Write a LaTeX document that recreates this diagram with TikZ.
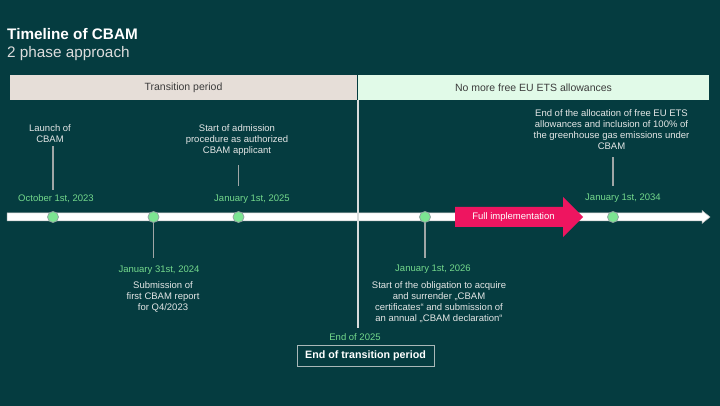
\documentclass[tikz,border=0pt]{standalone}
\usepackage{fontspec}
\setmainfont{Liberation Sans}
\definecolor{bg}{HTML}{053C40}
\definecolor{beige}{HTML}{E6DED8}
\definecolor{mint}{HTML}{E1FAE8}
\definecolor{bandtext}{HTML}{3C3C3C}
\definecolor{dategreen}{HTML}{74D98C}
\definecolor{dotgreen}{HTML}{7CE592}
\definecolor{dotedge}{HTML}{8FA3A0}
\definecolor{bodytext}{HTML}{E4E6E6}
\definecolor{connline}{HTML}{A0A6A6}
\definecolor{hotpink}{HTML}{EE1560}
\definecolor{divider}{HTML}{D8DCDC}
\definecolor{boxedge}{HTML}{A9B8B8}
\definecolor{subtext}{HTML}{DCDCDC}
\definecolor{baredge}{HTML}{B8BCBC}
\begin{document}
\begin{tikzpicture}[x=1pt,y=-1pt,
  bodytxt/.style={font=\fontsize{9.5}{11}\selectfont, text=bodytext, align=center, inner sep=0pt, anchor=north},
  datetxt/.style={font=\fontsize{9.5}{11}\selectfont, text=dategreen, inner sep=0pt, anchor=base},
  dotmark/.style={circle, fill=dotgreen, draw=dotedge, line width=0.8pt, minimum size=11pt, inner sep=0pt},
  conn/.style={draw=connline, line width=1.5pt},
  band/.style={font=\fontsize{10.5}{12}\selectfont, text=bandtext, inner sep=0pt, minimum height=25pt}
]
\useasboundingbox (0,0) rectangle (720,406);
\fill[bg] (0,0) rectangle (720,406);

% titles
\node[anchor=base west, inner sep=0pt, font=\fontsize{15.3}{18}\selectfont\bfseries, text=white] (title) at (7,40) {Timeline of CBAM};
\node[anchor=base west, inner sep=0pt, font=\fontsize{15.3}{18}\selectfont, text=subtext] (subtitle) at (7,58) {2 phase approach};

% bands
\node[band, fill=beige, minimum width=347pt] (trans) at (183.5,87.5) {Transition period};
\node[band, fill=mint, minimum width=351pt] (nomore) at (533.5,87.5) {No more free EU ETS allowances};

% timeline bar
\filldraw[fill=white, draw=baredge, line width=0.5pt] (7,213) -- (702,213) -- (702,210.5) -- (710,217) -- (702,223.5) -- (702,221) -- (7,221) -- cycle;

% full implementation arrow
\fill[hotpink] (455,207) -- (563,207) -- (563,197) -- (583,217) -- (563,237) -- (563,227) -- (455,227) -- cycle;
\node[font=\fontsize{9.5}{11}\selectfont, text=white, inner sep=0pt] (full) at (513.5,217) {Full implementation};

% dates
\node[datetxt] (d1) at (56,202) {October 1st, 2023};
\node[datetxt] (d2) at (159,272) {January 31st, 2024};
\node[datetxt] (d3) at (252,202) {January 1st, 2025};
\node[datetxt] (d4) at (433,271) {January 1st, 2026};
\node[datetxt] (d5) at (623,201) {January 1st, 2034};
\node[datetxt] (d6) at (355,340) {End of 2025};

% texts
\node[bodytxt] (launch) at (50,124.5) {Launch of\\CBAM};
\node[bodytxt] (admission) at (237,124.5) {Start of admission\\procedure as authorized\\CBAM applicant};
\node[bodytxt] (submission) at (163,281.5) {Submission of\\first CBAM report\\for Q4/2023};
\node[bodytxt] (obligation) at (439,281) {Start of the obligation to acquire\\and surrender „CBAM\\certificates“ and submission of\\an annual „CBAM declaration“};
\node[bodytxt] (endalloc) at (611.5,109) {End of the allocation of free EU ETS\\allowances and inclusion of 100\% of\\the greenhouse gas emissions under\\CBAM};

% dot coordinates
\coordinate (p1) at (53,217);
\coordinate (p2) at (153.5,217);
\coordinate (p3) at (238.5,217);
\coordinate (p4) at (425,217);
\coordinate (p5) at (613,217);

% connectors
\draw[conn, shorten <=3pt, shorten >=5pt] (p1 |- launch.south) -- (p1 |- d1.north);
\draw[conn, shorten <=9.7pt, shorten >=9pt] (p3 |- admission.south) -- (p3 |- d3.north);
\draw[conn, shorten <=8pt, shorten >=8pt] (p5 |- endalloc.south) -- (p5 |- d5.north);
\draw[conn, shorten >=7pt] (p2) ++(0,5.5) coordinate (p2b) (p2b) -- (p2 |- d2.north);
\draw[conn, shorten >=6pt] (p4) ++(0,5.5) coordinate (p4b) (p4b) -- (p4 |- d4.north);

% divider
\draw[divider, line width=1.6pt, shorten >=5pt] (nomore.south west) -- (nomore.south west |- d6.north);

% dots
\node[dotmark] (dot1) at (p1) {};
\node[dotmark] (dot2) at (p2) {};
\node[dotmark] (dot3) at (p3) {};
\node[dotmark] (dot4) at (p4) {};
\node[dotmark] (dot5) at (p5) {};

% end of transition box
\node[draw=boxedge, line width=1pt, fill=bg, minimum width=137pt, minimum height=21pt, inner sep=0pt, font=\fontsize{10.7}{12}\selectfont\bfseries, text=white] (endbox) at (365.5,355.5) {End of transition period};
\end{tikzpicture}
\end{document}
